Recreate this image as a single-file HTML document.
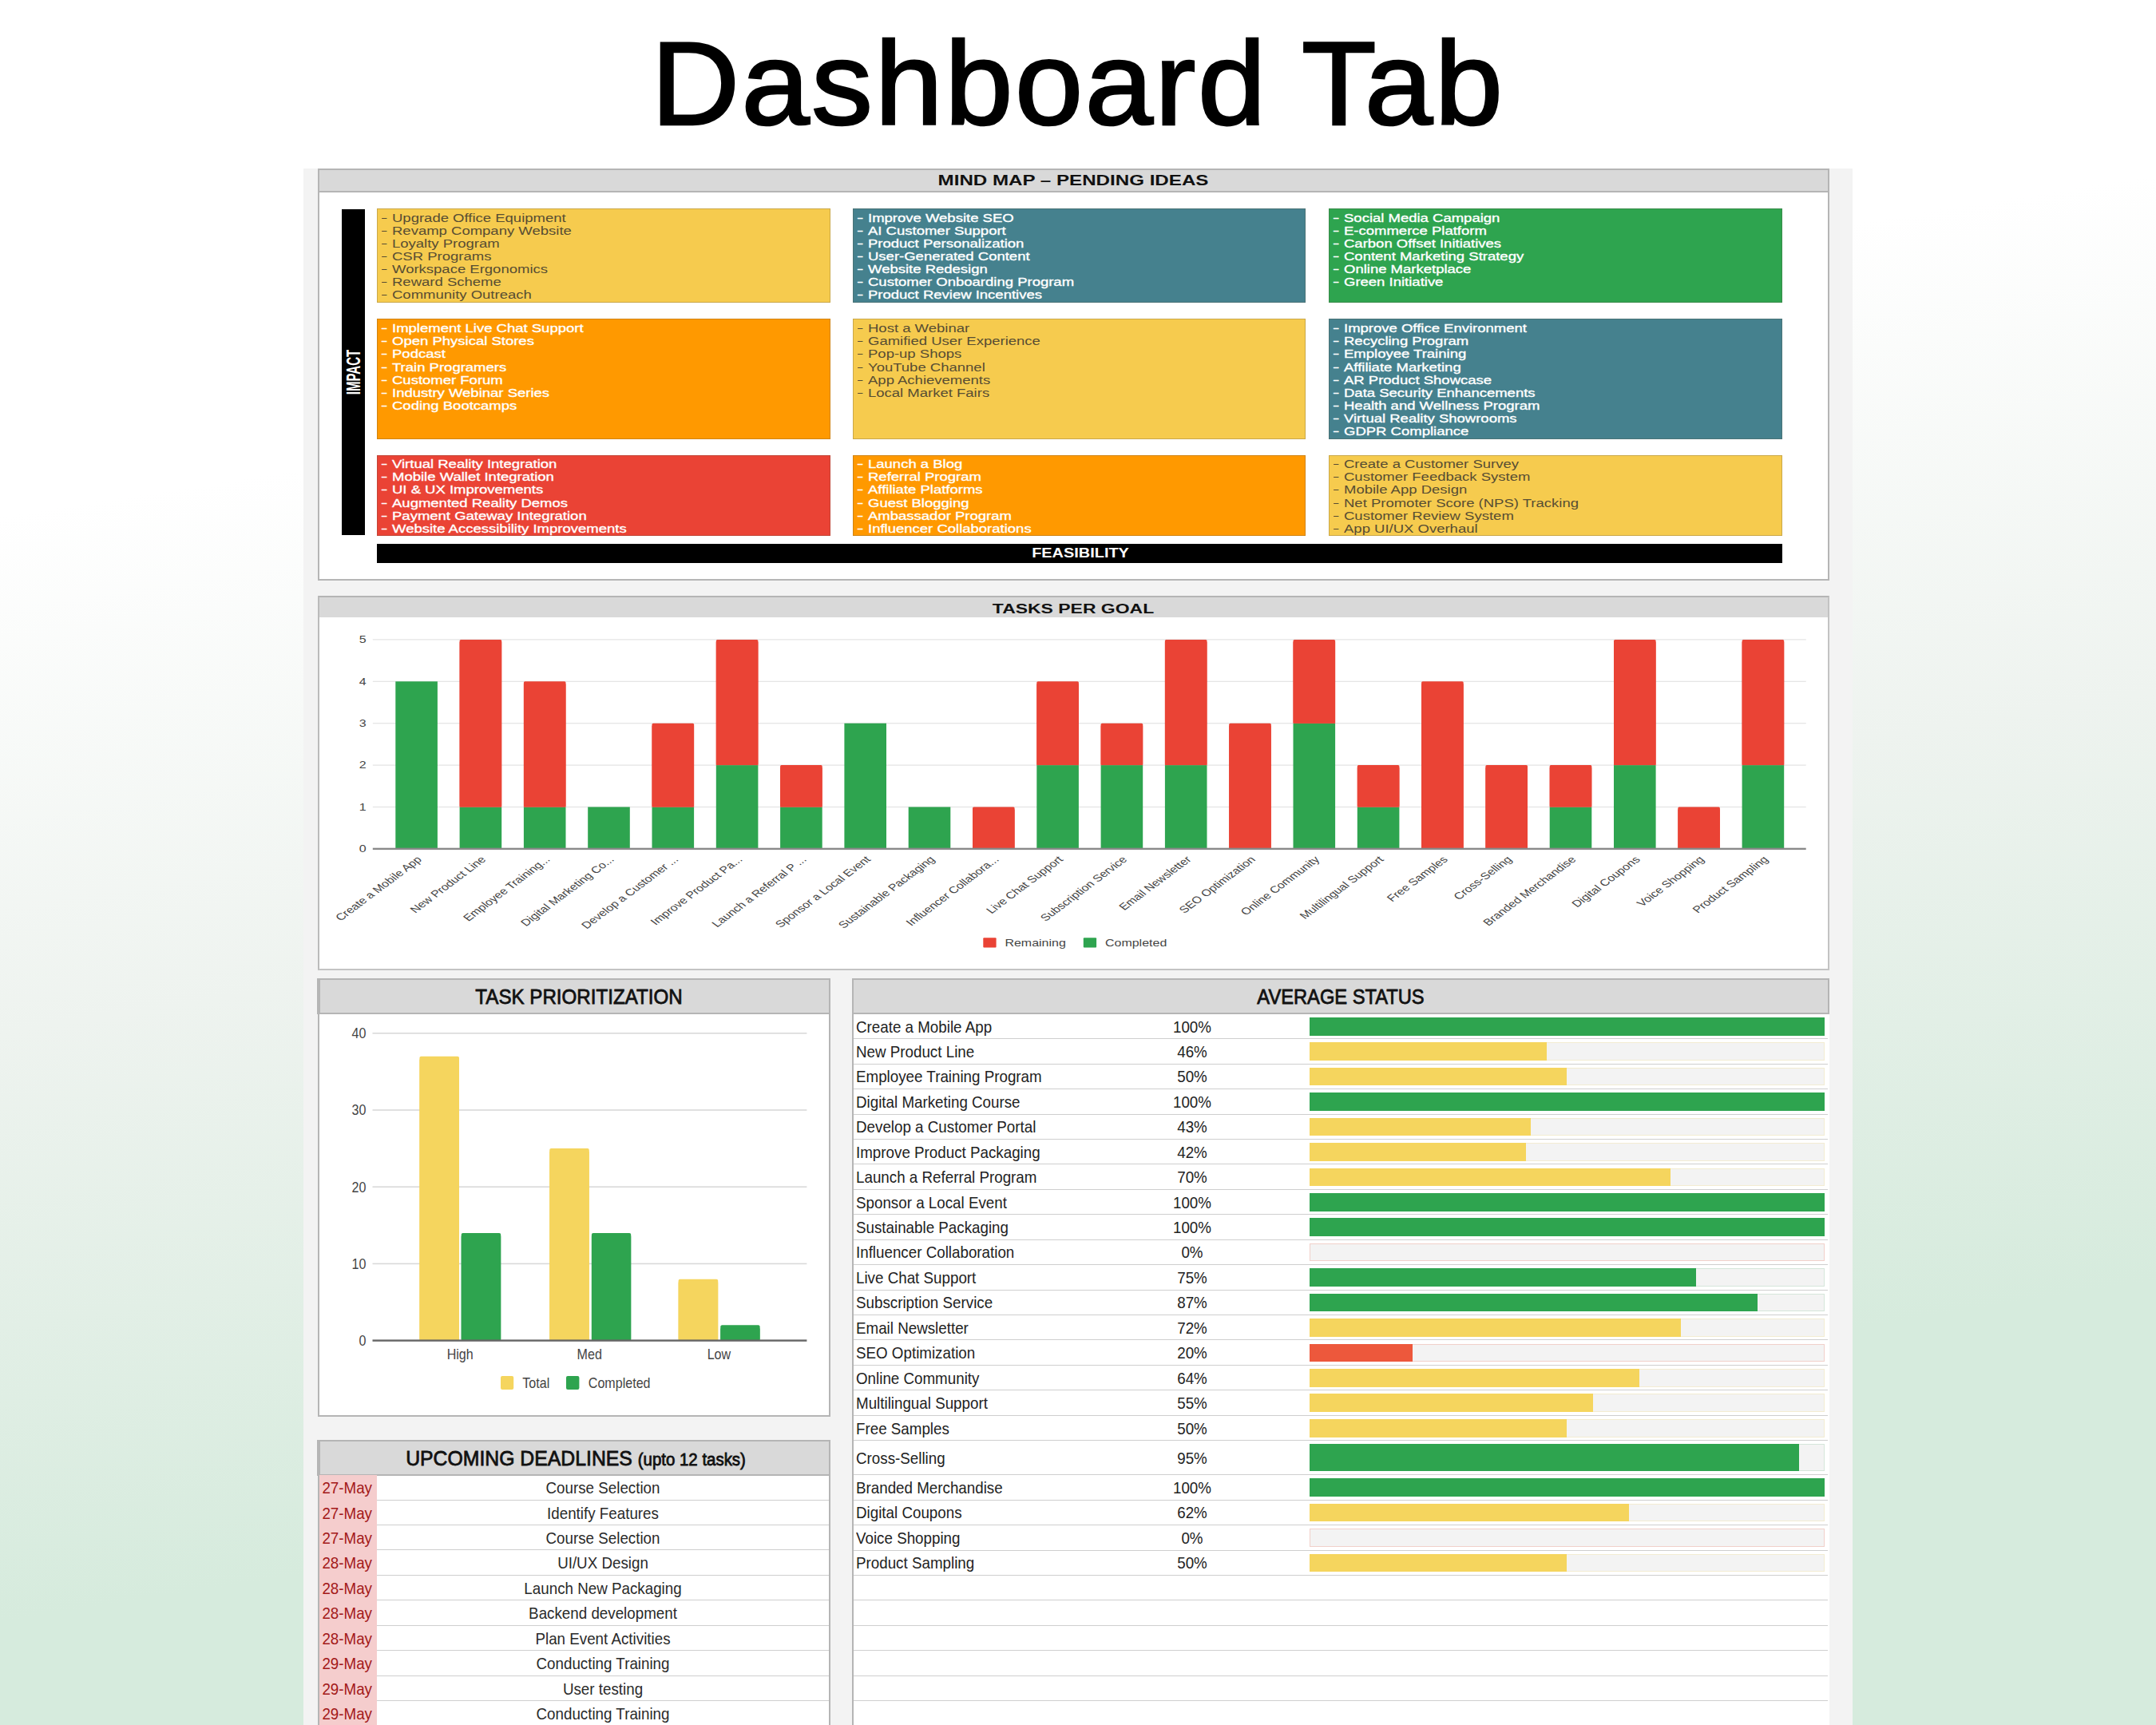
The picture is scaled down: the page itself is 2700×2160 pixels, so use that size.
<!DOCTYPE html>
<html lang="en"><head><meta charset="utf-8"><title>Dashboard Tab</title><style>
*{box-sizing:border-box;margin:0;padding:0}
html,body{width:2700px;height:2160px;overflow:hidden}
body{position:relative;font-family:"Liberation Sans",sans-serif;background:linear-gradient(171deg,#ffffff 0%,#ffffff 25%,#eef3ef 50%,#d6ebdd 78.5%,#d6ebdd 100%);}
.a{position:absolute}
.t{position:absolute;white-space:nowrap;line-height:1;}
.l{transform-origin:0 50%}
.c{transform-origin:50% 50%}
.r{transform-origin:100% 50%}
.panel{left:380px;top:211px;width:1940px;height:1949px;background:#f3f3f3}
.card{background:#fff;border:2px solid #b5b5b5}
.hd{background:#d9d9d9}
.mm{border:1px solid rgba(90,80,60,.28)}
.w{color:#fff;-webkit-text-stroke:.35px #fff}
.d{color:#574d33}
svg text{font-family:"Liberation Sans",sans-serif}
</style></head><body>
<div class="a " style="left:380.00px;top:211.00px;width:1940.00px;height:1949.00px;background:#f3f3f3;"></div>
<span class="t c " style="left:1349.80px;top:31.02px;font-size:148px;transform:translateX(-50%) scaleX(1.035);color:#000;letter-spacing:2.45px;-webkit-text-stroke:2.6px #000;">Dashboard Tab</span>
<div class="a card" style="left:398.00px;top:211.00px;width:1893.00px;height:516.00px;"></div>
<div class="a hd" style="left:400.00px;top:213.00px;width:1889.00px;height:28.00px;border-bottom:2px solid #b5b5b5;"></div>
<span class="t c " style="left:1344.00px;top:217.39px;font-size:18.8px;transform:translateX(-50%) scaleX(1.285);font-weight:bold;color:#111;">MIND MAP – PENDING IDEAS</span>
<div class="a mm" style="left:472.00px;top:261.00px;width:568.00px;height:118.00px;background:#f6cb4e;"></div>
<span class="t l d" style="left:478.20px;top:263.78px;font-size:15.2px;transform:scaleX(0.745);">–</span>
<span class="t l d" style="left:491.20px;top:264.78px;font-size:15.2px;transform:scaleX(1.218);">Upgrade Office Equipment</span>
<span class="t l d" style="left:478.20px;top:279.82px;font-size:15.2px;transform:scaleX(0.745);">–</span>
<span class="t l d" style="left:491.20px;top:280.82px;font-size:15.2px;transform:scaleX(1.218);">Revamp Company Website</span>
<span class="t l d" style="left:478.20px;top:295.86px;font-size:15.2px;transform:scaleX(0.745);">–</span>
<span class="t l d" style="left:491.20px;top:296.86px;font-size:15.2px;transform:scaleX(1.218);">Loyalty Program</span>
<span class="t l d" style="left:478.20px;top:311.90px;font-size:15.2px;transform:scaleX(0.745);">–</span>
<span class="t l d" style="left:491.20px;top:312.90px;font-size:15.2px;transform:scaleX(1.218);">CSR Programs</span>
<span class="t l d" style="left:478.20px;top:327.94px;font-size:15.2px;transform:scaleX(0.745);">–</span>
<span class="t l d" style="left:491.20px;top:328.94px;font-size:15.2px;transform:scaleX(1.218);">Workspace Ergonomics</span>
<span class="t l d" style="left:478.20px;top:343.98px;font-size:15.2px;transform:scaleX(0.745);">–</span>
<span class="t l d" style="left:491.20px;top:344.98px;font-size:15.2px;transform:scaleX(1.218);">Reward Scheme</span>
<span class="t l d" style="left:478.20px;top:360.02px;font-size:15.2px;transform:scaleX(0.745);">–</span>
<span class="t l d" style="left:491.20px;top:361.02px;font-size:15.2px;transform:scaleX(1.218);">Community Outreach</span>
<div class="a mm" style="left:1068.00px;top:261.00px;width:567.00px;height:118.00px;background:#45818e;"></div>
<span class="t l w" style="left:1074.20px;top:263.78px;font-size:15.2px;transform:scaleX(0.745);">–</span>
<span class="t l w" style="left:1087.20px;top:264.78px;font-size:15.2px;transform:scaleX(1.218);">Improve Website SEO</span>
<span class="t l w" style="left:1074.20px;top:279.82px;font-size:15.2px;transform:scaleX(0.745);">–</span>
<span class="t l w" style="left:1087.20px;top:280.82px;font-size:15.2px;transform:scaleX(1.218);">AI Customer Support</span>
<span class="t l w" style="left:1074.20px;top:295.86px;font-size:15.2px;transform:scaleX(0.745);">–</span>
<span class="t l w" style="left:1087.20px;top:296.86px;font-size:15.2px;transform:scaleX(1.218);">Product Personalization</span>
<span class="t l w" style="left:1074.20px;top:311.90px;font-size:15.2px;transform:scaleX(0.745);">–</span>
<span class="t l w" style="left:1087.20px;top:312.90px;font-size:15.2px;transform:scaleX(1.218);">User-Generated Content</span>
<span class="t l w" style="left:1074.20px;top:327.94px;font-size:15.2px;transform:scaleX(0.745);">–</span>
<span class="t l w" style="left:1087.20px;top:328.94px;font-size:15.2px;transform:scaleX(1.218);">Website Redesign</span>
<span class="t l w" style="left:1074.20px;top:343.98px;font-size:15.2px;transform:scaleX(0.745);">–</span>
<span class="t l w" style="left:1087.20px;top:344.98px;font-size:15.2px;transform:scaleX(1.218);">Customer Onboarding Program</span>
<span class="t l w" style="left:1074.20px;top:360.02px;font-size:15.2px;transform:scaleX(0.745);">–</span>
<span class="t l w" style="left:1087.20px;top:361.02px;font-size:15.2px;transform:scaleX(1.218);">Product Review Incentives</span>
<div class="a mm" style="left:1664.00px;top:261.00px;width:568.00px;height:118.00px;background:#2ea44f;"></div>
<span class="t l w" style="left:1670.20px;top:263.78px;font-size:15.2px;transform:scaleX(0.745);">–</span>
<span class="t l w" style="left:1683.20px;top:264.78px;font-size:15.2px;transform:scaleX(1.218);">Social Media Campaign</span>
<span class="t l w" style="left:1670.20px;top:279.82px;font-size:15.2px;transform:scaleX(0.745);">–</span>
<span class="t l w" style="left:1683.20px;top:280.82px;font-size:15.2px;transform:scaleX(1.218);">E-commerce Platform</span>
<span class="t l w" style="left:1670.20px;top:295.86px;font-size:15.2px;transform:scaleX(0.745);">–</span>
<span class="t l w" style="left:1683.20px;top:296.86px;font-size:15.2px;transform:scaleX(1.218);">Carbon Offset Initiatives</span>
<span class="t l w" style="left:1670.20px;top:311.90px;font-size:15.2px;transform:scaleX(0.745);">–</span>
<span class="t l w" style="left:1683.20px;top:312.90px;font-size:15.2px;transform:scaleX(1.218);">Content Marketing Strategy</span>
<span class="t l w" style="left:1670.20px;top:327.94px;font-size:15.2px;transform:scaleX(0.745);">–</span>
<span class="t l w" style="left:1683.20px;top:328.94px;font-size:15.2px;transform:scaleX(1.218);">Online Marketplace</span>
<span class="t l w" style="left:1670.20px;top:343.98px;font-size:15.2px;transform:scaleX(0.745);">–</span>
<span class="t l w" style="left:1683.20px;top:344.98px;font-size:15.2px;transform:scaleX(1.218);">Green Initiative</span>
<div class="a mm" style="left:472.00px;top:399.00px;width:568.00px;height:151.00px;background:#ff9900;"></div>
<span class="t l w" style="left:478.20px;top:402.38px;font-size:15.2px;transform:scaleX(0.745);">–</span>
<span class="t l w" style="left:491.20px;top:403.38px;font-size:15.2px;transform:scaleX(1.218);">Implement Live Chat Support</span>
<span class="t l w" style="left:478.20px;top:418.42px;font-size:15.2px;transform:scaleX(0.745);">–</span>
<span class="t l w" style="left:491.20px;top:419.42px;font-size:15.2px;transform:scaleX(1.218);">Open Physical Stores</span>
<span class="t l w" style="left:478.20px;top:434.46px;font-size:15.2px;transform:scaleX(0.745);">–</span>
<span class="t l w" style="left:491.20px;top:435.46px;font-size:15.2px;transform:scaleX(1.218);">Podcast</span>
<span class="t l w" style="left:478.20px;top:450.50px;font-size:15.2px;transform:scaleX(0.745);">–</span>
<span class="t l w" style="left:491.20px;top:451.50px;font-size:15.2px;transform:scaleX(1.218);">Train Programers</span>
<span class="t l w" style="left:478.20px;top:466.54px;font-size:15.2px;transform:scaleX(0.745);">–</span>
<span class="t l w" style="left:491.20px;top:467.54px;font-size:15.2px;transform:scaleX(1.218);">Customer Forum</span>
<span class="t l w" style="left:478.20px;top:482.58px;font-size:15.2px;transform:scaleX(0.745);">–</span>
<span class="t l w" style="left:491.20px;top:483.58px;font-size:15.2px;transform:scaleX(1.218);">Industry Webinar Series</span>
<span class="t l w" style="left:478.20px;top:498.62px;font-size:15.2px;transform:scaleX(0.745);">–</span>
<span class="t l w" style="left:491.20px;top:499.62px;font-size:15.2px;transform:scaleX(1.218);">Coding Bootcamps</span>
<div class="a mm" style="left:1068.00px;top:399.00px;width:567.00px;height:151.00px;background:#f6cb4e;"></div>
<span class="t l d" style="left:1074.20px;top:402.38px;font-size:15.2px;transform:scaleX(0.745);">–</span>
<span class="t l d" style="left:1087.20px;top:403.38px;font-size:15.2px;transform:scaleX(1.218);">Host a Webinar</span>
<span class="t l d" style="left:1074.20px;top:418.42px;font-size:15.2px;transform:scaleX(0.745);">–</span>
<span class="t l d" style="left:1087.20px;top:419.42px;font-size:15.2px;transform:scaleX(1.218);">Gamified User Experience</span>
<span class="t l d" style="left:1074.20px;top:434.46px;font-size:15.2px;transform:scaleX(0.745);">–</span>
<span class="t l d" style="left:1087.20px;top:435.46px;font-size:15.2px;transform:scaleX(1.218);">Pop-up Shops</span>
<span class="t l d" style="left:1074.20px;top:450.50px;font-size:15.2px;transform:scaleX(0.745);">–</span>
<span class="t l d" style="left:1087.20px;top:451.50px;font-size:15.2px;transform:scaleX(1.218);">YouTube Channel</span>
<span class="t l d" style="left:1074.20px;top:466.54px;font-size:15.2px;transform:scaleX(0.745);">–</span>
<span class="t l d" style="left:1087.20px;top:467.54px;font-size:15.2px;transform:scaleX(1.218);">App Achievements</span>
<span class="t l d" style="left:1074.20px;top:482.58px;font-size:15.2px;transform:scaleX(0.745);">–</span>
<span class="t l d" style="left:1087.20px;top:483.58px;font-size:15.2px;transform:scaleX(1.218);">Local Market Fairs</span>
<div class="a mm" style="left:1664.00px;top:399.00px;width:568.00px;height:151.00px;background:#45818e;"></div>
<span class="t l w" style="left:1670.20px;top:402.38px;font-size:15.2px;transform:scaleX(0.745);">–</span>
<span class="t l w" style="left:1683.20px;top:403.38px;font-size:15.2px;transform:scaleX(1.218);">Improve Office Environment</span>
<span class="t l w" style="left:1670.20px;top:418.42px;font-size:15.2px;transform:scaleX(0.745);">–</span>
<span class="t l w" style="left:1683.20px;top:419.42px;font-size:15.2px;transform:scaleX(1.218);">Recycling Program</span>
<span class="t l w" style="left:1670.20px;top:434.46px;font-size:15.2px;transform:scaleX(0.745);">–</span>
<span class="t l w" style="left:1683.20px;top:435.46px;font-size:15.2px;transform:scaleX(1.218);">Employee Training</span>
<span class="t l w" style="left:1670.20px;top:450.50px;font-size:15.2px;transform:scaleX(0.745);">–</span>
<span class="t l w" style="left:1683.20px;top:451.50px;font-size:15.2px;transform:scaleX(1.218);">Affiliate Marketing</span>
<span class="t l w" style="left:1670.20px;top:466.54px;font-size:15.2px;transform:scaleX(0.745);">–</span>
<span class="t l w" style="left:1683.20px;top:467.54px;font-size:15.2px;transform:scaleX(1.218);">AR Product Showcase</span>
<span class="t l w" style="left:1670.20px;top:482.58px;font-size:15.2px;transform:scaleX(0.745);">–</span>
<span class="t l w" style="left:1683.20px;top:483.58px;font-size:15.2px;transform:scaleX(1.218);">Data Security Enhancements</span>
<span class="t l w" style="left:1670.20px;top:498.62px;font-size:15.2px;transform:scaleX(0.745);">–</span>
<span class="t l w" style="left:1683.20px;top:499.62px;font-size:15.2px;transform:scaleX(1.218);">Health and Wellness Program</span>
<span class="t l w" style="left:1670.20px;top:514.66px;font-size:15.2px;transform:scaleX(0.745);">–</span>
<span class="t l w" style="left:1683.20px;top:515.66px;font-size:15.2px;transform:scaleX(1.218);">Virtual Reality Showrooms</span>
<span class="t l w" style="left:1670.20px;top:530.70px;font-size:15.2px;transform:scaleX(0.745);">–</span>
<span class="t l w" style="left:1683.20px;top:531.70px;font-size:15.2px;transform:scaleX(1.218);">GDPR Compliance</span>
<div class="a mm" style="left:472.00px;top:570.00px;width:568.00px;height:101.00px;background:#ea4335;"></div>
<span class="t l w" style="left:478.20px;top:572.38px;font-size:15.2px;transform:scaleX(0.745);">–</span>
<span class="t l w" style="left:491.20px;top:573.38px;font-size:15.2px;transform:scaleX(1.218);">Virtual Reality Integration</span>
<span class="t l w" style="left:478.20px;top:588.42px;font-size:15.2px;transform:scaleX(0.745);">–</span>
<span class="t l w" style="left:491.20px;top:589.42px;font-size:15.2px;transform:scaleX(1.218);">Mobile Wallet Integration</span>
<span class="t l w" style="left:478.20px;top:604.46px;font-size:15.2px;transform:scaleX(0.745);">–</span>
<span class="t l w" style="left:491.20px;top:605.46px;font-size:15.2px;transform:scaleX(1.218);">UI &amp; UX Improvements</span>
<span class="t l w" style="left:478.20px;top:620.50px;font-size:15.2px;transform:scaleX(0.745);">–</span>
<span class="t l w" style="left:491.20px;top:621.50px;font-size:15.2px;transform:scaleX(1.218);">Augmented Reality Demos</span>
<span class="t l w" style="left:478.20px;top:636.54px;font-size:15.2px;transform:scaleX(0.745);">–</span>
<span class="t l w" style="left:491.20px;top:637.54px;font-size:15.2px;transform:scaleX(1.218);">Payment Gateway Integration</span>
<span class="t l w" style="left:478.20px;top:652.58px;font-size:15.2px;transform:scaleX(0.745);">–</span>
<span class="t l w" style="left:491.20px;top:653.58px;font-size:15.2px;transform:scaleX(1.218);">Website Accessibility Improvements</span>
<div class="a mm" style="left:1068.00px;top:570.00px;width:567.00px;height:101.00px;background:#ff9900;"></div>
<span class="t l w" style="left:1074.20px;top:572.38px;font-size:15.2px;transform:scaleX(0.745);">–</span>
<span class="t l w" style="left:1087.20px;top:573.38px;font-size:15.2px;transform:scaleX(1.218);">Launch a Blog</span>
<span class="t l w" style="left:1074.20px;top:588.42px;font-size:15.2px;transform:scaleX(0.745);">–</span>
<span class="t l w" style="left:1087.20px;top:589.42px;font-size:15.2px;transform:scaleX(1.218);">Referral Program</span>
<span class="t l w" style="left:1074.20px;top:604.46px;font-size:15.2px;transform:scaleX(0.745);">–</span>
<span class="t l w" style="left:1087.20px;top:605.46px;font-size:15.2px;transform:scaleX(1.218);">Affiliate Platforms</span>
<span class="t l w" style="left:1074.20px;top:620.50px;font-size:15.2px;transform:scaleX(0.745);">–</span>
<span class="t l w" style="left:1087.20px;top:621.50px;font-size:15.2px;transform:scaleX(1.218);">Guest Blogging</span>
<span class="t l w" style="left:1074.20px;top:636.54px;font-size:15.2px;transform:scaleX(0.745);">–</span>
<span class="t l w" style="left:1087.20px;top:637.54px;font-size:15.2px;transform:scaleX(1.218);">Ambassador Program</span>
<span class="t l w" style="left:1074.20px;top:652.58px;font-size:15.2px;transform:scaleX(0.745);">–</span>
<span class="t l w" style="left:1087.20px;top:653.58px;font-size:15.2px;transform:scaleX(1.218);">Influencer Collaborations</span>
<div class="a mm" style="left:1664.00px;top:570.00px;width:568.00px;height:101.00px;background:#f6cb4e;"></div>
<span class="t l d" style="left:1670.20px;top:572.38px;font-size:15.2px;transform:scaleX(0.745);">–</span>
<span class="t l d" style="left:1683.20px;top:573.38px;font-size:15.2px;transform:scaleX(1.218);">Create a Customer Survey</span>
<span class="t l d" style="left:1670.20px;top:588.42px;font-size:15.2px;transform:scaleX(0.745);">–</span>
<span class="t l d" style="left:1683.20px;top:589.42px;font-size:15.2px;transform:scaleX(1.218);">Customer Feedback System</span>
<span class="t l d" style="left:1670.20px;top:604.46px;font-size:15.2px;transform:scaleX(0.745);">–</span>
<span class="t l d" style="left:1683.20px;top:605.46px;font-size:15.2px;transform:scaleX(1.218);">Mobile App Design</span>
<span class="t l d" style="left:1670.20px;top:620.50px;font-size:15.2px;transform:scaleX(0.745);">–</span>
<span class="t l d" style="left:1683.20px;top:621.50px;font-size:15.2px;transform:scaleX(1.218);">Net Promoter Score (NPS) Tracking</span>
<span class="t l d" style="left:1670.20px;top:636.54px;font-size:15.2px;transform:scaleX(0.745);">–</span>
<span class="t l d" style="left:1683.20px;top:637.54px;font-size:15.2px;transform:scaleX(1.218);">Customer Review System</span>
<span class="t l d" style="left:1670.20px;top:652.58px;font-size:15.2px;transform:scaleX(0.745);">–</span>
<span class="t l d" style="left:1683.20px;top:653.58px;font-size:15.2px;transform:scaleX(1.218);">App UI/UX Overhaul</span>
<div class="a " style="left:428.00px;top:262.00px;width:29.00px;height:408.00px;background:#000;"></div>
<span class="t c" style="left:443.8px;top:466px;font-size:23.5px;font-weight:bold;color:#fff;transform:translate(-50%,-50%) rotate(-90deg) scaleX(.64);">IMPACT</span>
<div class="a " style="left:472.00px;top:681.00px;width:1760.00px;height:24.00px;background:#000;"></div>
<span class="t c " style="left:1352.50px;top:684.76px;font-size:16px;transform:translateX(-50%) scaleX(1.245);font-weight:bold;color:#fff;">FEASIBILITY</span>
<div class="a card" style="left:398.00px;top:746.00px;width:1893.00px;height:469.00px;border-color:#b5b5b5 #c3c3c3 #c3c3c3 #bbbbbb;"></div>
<div class="a hd" style="left:400.00px;top:748.00px;width:1889.00px;height:25.00px;"></div>
<span class="t c " style="left:1344.30px;top:753.57px;font-size:17.4px;transform:translateX(-50%) scaleX(1.32);font-weight:bold;color:#111;">TASKS PER GOAL</span>
<div class="a card" style="left:398.00px;top:1225.00px;width:642.00px;height:548.50px;"></div>
<div class="a hd" style="left:400.00px;top:1227.00px;width:638.00px;height:43.00px;border-bottom:2px solid #b5b5b5;border-left:1px solid #b5b5b5;"></div>
<div class="a " style="left:397.00px;top:1225.00px;width:3.50px;height:45.00px;background:#b5b5b5;"></div>
<span class="t c " style="left:724.80px;top:1235.11px;font-size:26.1px;transform:translateX(-50%) scaleX(0.925);color:#111;-webkit-text-stroke:.8px #111;">TASK PRIORITIZATION</span>
<div class="a card" style="left:398.00px;top:1803.00px;width:642.00px;height:367.00px;"></div>
<div class="a hd" style="left:400.00px;top:1805.00px;width:638.00px;height:42.50px;border-bottom:2px solid #b5b5b5;border-left:1px solid #b5b5b5;"></div>
<div class="a " style="left:397.00px;top:1803.00px;width:3.50px;height:44.50px;background:#b5b5b5;"></div>
<span class="t c" style="left:721px;top:1813.01px;font-size:26.1px;color:#111;-webkit-text-stroke:.8px #111;transform:translateX(-50%) scaleX(.95);">UPCOMING DEADLINES <span style="font-size:21.5px">(upto 12 tasks)</span></span>
<div class="a " style="left:400.00px;top:1847.00px;width:72.00px;height:313.00px;background:#f5cdcd;"></div>
<div class="a " style="left:472.00px;top:1878.00px;width:566.00px;height:1.00px;background:#cfcfcf;"></div>
<span class="t r " style="left:466.20px;top:1853.20px;font-size:20.2px;transform:translateX(-100%) scaleX(0.93);color:#a31818;">27-May</span>
<span class="t c " style="left:755.00px;top:1853.20px;font-size:20.2px;transform:translateX(-50%) scaleX(0.93);color:#2a2a2a;">Course Selection</span>
<div class="a " style="left:472.00px;top:1909.00px;width:566.00px;height:1.00px;background:#cfcfcf;"></div>
<span class="t r " style="left:466.20px;top:1884.63px;font-size:20.2px;transform:translateX(-100%) scaleX(0.93);color:#a31818;">27-May</span>
<span class="t c " style="left:755.00px;top:1884.63px;font-size:20.2px;transform:translateX(-50%) scaleX(0.93);color:#2a2a2a;">Identify Features</span>
<div class="a " style="left:472.00px;top:1940.00px;width:566.00px;height:1.00px;background:#cfcfcf;"></div>
<span class="t r " style="left:466.20px;top:1916.06px;font-size:20.2px;transform:translateX(-100%) scaleX(0.93);color:#a31818;">27-May</span>
<span class="t c " style="left:755.00px;top:1916.06px;font-size:20.2px;transform:translateX(-50%) scaleX(0.93);color:#2a2a2a;">Course Selection</span>
<div class="a " style="left:472.00px;top:1972.00px;width:566.00px;height:1.00px;background:#cfcfcf;"></div>
<span class="t r " style="left:466.20px;top:1947.49px;font-size:20.2px;transform:translateX(-100%) scaleX(0.93);color:#a31818;">28-May</span>
<span class="t c " style="left:755.00px;top:1947.49px;font-size:20.2px;transform:translateX(-50%) scaleX(0.93);color:#2a2a2a;">UI/UX Design</span>
<div class="a " style="left:472.00px;top:2003.00px;width:566.00px;height:1.00px;background:#cfcfcf;"></div>
<span class="t r " style="left:466.20px;top:1978.92px;font-size:20.2px;transform:translateX(-100%) scaleX(0.93);color:#a31818;">28-May</span>
<span class="t c " style="left:755.00px;top:1978.92px;font-size:20.2px;transform:translateX(-50%) scaleX(0.93);color:#2a2a2a;">Launch New Packaging</span>
<div class="a " style="left:472.00px;top:2035.00px;width:566.00px;height:1.00px;background:#cfcfcf;"></div>
<span class="t r " style="left:466.20px;top:2010.35px;font-size:20.2px;transform:translateX(-100%) scaleX(0.93);color:#a31818;">28-May</span>
<span class="t c " style="left:755.00px;top:2010.35px;font-size:20.2px;transform:translateX(-50%) scaleX(0.93);color:#2a2a2a;">Backend development</span>
<div class="a " style="left:472.00px;top:2066.00px;width:566.00px;height:1.00px;background:#cfcfcf;"></div>
<span class="t r " style="left:466.20px;top:2041.78px;font-size:20.2px;transform:translateX(-100%) scaleX(0.93);color:#a31818;">28-May</span>
<span class="t c " style="left:755.00px;top:2041.78px;font-size:20.2px;transform:translateX(-50%) scaleX(0.93);color:#2a2a2a;">Plan Event Activities</span>
<div class="a " style="left:472.00px;top:2098.00px;width:566.00px;height:1.00px;background:#cfcfcf;"></div>
<span class="t r " style="left:466.20px;top:2073.21px;font-size:20.2px;transform:translateX(-100%) scaleX(0.93);color:#a31818;">29-May</span>
<span class="t c " style="left:755.00px;top:2073.21px;font-size:20.2px;transform:translateX(-50%) scaleX(0.93);color:#2a2a2a;">Conducting Training</span>
<div class="a " style="left:472.00px;top:2129.00px;width:566.00px;height:1.00px;background:#cfcfcf;"></div>
<span class="t r " style="left:466.20px;top:2104.64px;font-size:20.2px;transform:translateX(-100%) scaleX(0.93);color:#a31818;">29-May</span>
<span class="t c " style="left:755.00px;top:2104.64px;font-size:20.2px;transform:translateX(-50%) scaleX(0.93);color:#2a2a2a;">User testing</span>
<div class="a " style="left:472.00px;top:2160.00px;width:566.00px;height:1.00px;background:#cfcfcf;"></div>
<span class="t r " style="left:466.20px;top:2136.07px;font-size:20.2px;transform:translateX(-100%) scaleX(0.93);color:#a31818;">29-May</span>
<span class="t c " style="left:755.00px;top:2136.07px;font-size:20.2px;transform:translateX(-50%) scaleX(0.93);color:#2a2a2a;">Conducting Training</span>
<div class="a card" style="left:1067.00px;top:1225.00px;width:1224.00px;height:945.00px;border-right-color:#fff;"></div>
<div class="a hd" style="left:1069.00px;top:1227.00px;width:1220.00px;height:43.00px;border-bottom:2px solid #b5b5b5;"></div>
<div class="a " style="left:2289.00px;top:1225.00px;width:2.00px;height:45.00px;background:#b5b5b5;"></div>
<span class="t c " style="left:1678.50px;top:1235.11px;font-size:26.1px;transform:translateX(-50%) scaleX(0.908);color:#111;-webkit-text-stroke:.8px #111;">AVERAGE STATUS</span>
<div class="a " style="left:1069.00px;top:1300.00px;width:1220.00px;height:1.00px;background:#cfcfcf;"></div>
<span class="t l " style="left:1072.40px;top:1275.62px;font-size:20.2px;transform:scaleX(0.93);color:#222;">Create a Mobile App</span>
<span class="t c " style="left:1493.20px;top:1275.62px;font-size:20.2px;transform:translateX(-50%) scaleX(0.93);color:#222;">100%</span>
<div class="a " style="left:1639.50px;top:1274.00px;width:645.90px;height:22.63px;background:#f3f3f3;border:1px solid rgba(46,164,79,.15);"></div>
<div class="a " style="left:1639.50px;top:1274.00px;width:645.90px;height:22.63px;background:#2ea44f;"></div>
<div class="a " style="left:1069.00px;top:1332.00px;width:1220.00px;height:1.00px;background:#cfcfcf;"></div>
<span class="t l " style="left:1072.40px;top:1307.05px;font-size:20.2px;transform:scaleX(0.93);color:#222;">New Product Line</span>
<span class="t c " style="left:1493.20px;top:1307.05px;font-size:20.2px;transform:translateX(-50%) scaleX(0.93);color:#222;">46%</span>
<div class="a " style="left:1639.50px;top:1305.43px;width:645.90px;height:22.63px;background:#f3f3f3;border:1px solid rgba(245,213,94,.22);"></div>
<div class="a " style="left:1639.50px;top:1305.43px;width:297.11px;height:22.63px;background:#f5d55e;"></div>
<div class="a " style="left:1069.00px;top:1363.00px;width:1220.00px;height:1.00px;background:#cfcfcf;"></div>
<span class="t l " style="left:1072.40px;top:1338.48px;font-size:20.2px;transform:scaleX(0.93);color:#222;">Employee Training Program</span>
<span class="t c " style="left:1493.20px;top:1338.48px;font-size:20.2px;transform:translateX(-50%) scaleX(0.93);color:#222;">50%</span>
<div class="a " style="left:1639.50px;top:1336.86px;width:645.90px;height:22.63px;background:#f3f3f3;border:1px solid rgba(245,213,94,.22);"></div>
<div class="a " style="left:1639.50px;top:1336.86px;width:322.95px;height:22.63px;background:#f5d55e;"></div>
<div class="a " style="left:1069.00px;top:1395.00px;width:1220.00px;height:1.00px;background:#cfcfcf;"></div>
<span class="t l " style="left:1072.40px;top:1369.91px;font-size:20.2px;transform:scaleX(0.93);color:#222;">Digital Marketing Course</span>
<span class="t c " style="left:1493.20px;top:1369.91px;font-size:20.2px;transform:translateX(-50%) scaleX(0.93);color:#222;">100%</span>
<div class="a " style="left:1639.50px;top:1368.29px;width:645.90px;height:22.63px;background:#f3f3f3;border:1px solid rgba(46,164,79,.15);"></div>
<div class="a " style="left:1639.50px;top:1368.29px;width:645.90px;height:22.63px;background:#2ea44f;"></div>
<div class="a " style="left:1069.00px;top:1426.00px;width:1220.00px;height:1.00px;background:#cfcfcf;"></div>
<span class="t l " style="left:1072.40px;top:1401.34px;font-size:20.2px;transform:scaleX(0.93);color:#222;">Develop a Customer Portal</span>
<span class="t c " style="left:1493.20px;top:1401.34px;font-size:20.2px;transform:translateX(-50%) scaleX(0.93);color:#222;">43%</span>
<div class="a " style="left:1639.50px;top:1399.72px;width:645.90px;height:22.63px;background:#f3f3f3;border:1px solid rgba(245,213,94,.22);"></div>
<div class="a " style="left:1639.50px;top:1399.72px;width:277.74px;height:22.63px;background:#f5d55e;"></div>
<div class="a " style="left:1069.00px;top:1457.00px;width:1220.00px;height:1.00px;background:#cfcfcf;"></div>
<span class="t l " style="left:1072.40px;top:1432.77px;font-size:20.2px;transform:scaleX(0.93);color:#222;">Improve Product Packaging</span>
<span class="t c " style="left:1493.20px;top:1432.77px;font-size:20.2px;transform:translateX(-50%) scaleX(0.93);color:#222;">42%</span>
<div class="a " style="left:1639.50px;top:1431.15px;width:645.90px;height:22.63px;background:#f3f3f3;border:1px solid rgba(245,213,94,.22);"></div>
<div class="a " style="left:1639.50px;top:1431.15px;width:271.28px;height:22.63px;background:#f5d55e;"></div>
<div class="a " style="left:1069.00px;top:1489.00px;width:1220.00px;height:1.00px;background:#cfcfcf;"></div>
<span class="t l " style="left:1072.40px;top:1464.20px;font-size:20.2px;transform:scaleX(0.93);color:#222;">Launch a Referral Program</span>
<span class="t c " style="left:1493.20px;top:1464.20px;font-size:20.2px;transform:translateX(-50%) scaleX(0.93);color:#222;">70%</span>
<div class="a " style="left:1639.50px;top:1462.58px;width:645.90px;height:22.63px;background:#f3f3f3;border:1px solid rgba(245,213,94,.22);"></div>
<div class="a " style="left:1639.50px;top:1462.58px;width:452.13px;height:22.63px;background:#f5d55e;"></div>
<div class="a " style="left:1069.00px;top:1520.00px;width:1220.00px;height:1.00px;background:#cfcfcf;"></div>
<span class="t l " style="left:1072.40px;top:1495.63px;font-size:20.2px;transform:scaleX(0.93);color:#222;">Sponsor a Local Event</span>
<span class="t c " style="left:1493.20px;top:1495.63px;font-size:20.2px;transform:translateX(-50%) scaleX(0.93);color:#222;">100%</span>
<div class="a " style="left:1639.50px;top:1494.01px;width:645.90px;height:22.63px;background:#f3f3f3;border:1px solid rgba(46,164,79,.15);"></div>
<div class="a " style="left:1639.50px;top:1494.01px;width:645.90px;height:22.63px;background:#2ea44f;"></div>
<div class="a " style="left:1069.00px;top:1552.00px;width:1220.00px;height:1.00px;background:#cfcfcf;"></div>
<span class="t l " style="left:1072.40px;top:1527.06px;font-size:20.2px;transform:scaleX(0.93);color:#222;">Sustainable Packaging</span>
<span class="t c " style="left:1493.20px;top:1527.06px;font-size:20.2px;transform:translateX(-50%) scaleX(0.93);color:#222;">100%</span>
<div class="a " style="left:1639.50px;top:1525.44px;width:645.90px;height:22.63px;background:#f3f3f3;border:1px solid rgba(46,164,79,.15);"></div>
<div class="a " style="left:1639.50px;top:1525.44px;width:645.90px;height:22.63px;background:#2ea44f;"></div>
<div class="a " style="left:1069.00px;top:1583.00px;width:1220.00px;height:1.00px;background:#cfcfcf;"></div>
<span class="t l " style="left:1072.40px;top:1558.49px;font-size:20.2px;transform:scaleX(0.93);color:#222;">Influencer Collaboration</span>
<span class="t c " style="left:1493.20px;top:1558.49px;font-size:20.2px;transform:translateX(-50%) scaleX(0.93);color:#222;">0%</span>
<div class="a " style="left:1639.50px;top:1556.87px;width:645.90px;height:22.63px;background:#f3f3f3;border:1px solid rgba(237,88,60,.22);"></div>
<div class="a " style="left:1069.00px;top:1615.00px;width:1220.00px;height:1.00px;background:#cfcfcf;"></div>
<span class="t l " style="left:1072.40px;top:1589.92px;font-size:20.2px;transform:scaleX(0.93);color:#222;">Live Chat Support</span>
<span class="t c " style="left:1493.20px;top:1589.92px;font-size:20.2px;transform:translateX(-50%) scaleX(0.93);color:#222;">75%</span>
<div class="a " style="left:1639.50px;top:1588.30px;width:645.90px;height:22.63px;background:#f3f3f3;border:1px solid rgba(46,164,79,.15);"></div>
<div class="a " style="left:1639.50px;top:1588.30px;width:484.43px;height:22.63px;background:#2ea44f;"></div>
<div class="a " style="left:1069.00px;top:1646.00px;width:1220.00px;height:1.00px;background:#cfcfcf;"></div>
<span class="t l " style="left:1072.40px;top:1621.35px;font-size:20.2px;transform:scaleX(0.93);color:#222;">Subscription Service</span>
<span class="t c " style="left:1493.20px;top:1621.35px;font-size:20.2px;transform:translateX(-50%) scaleX(0.93);color:#222;">87%</span>
<div class="a " style="left:1639.50px;top:1619.73px;width:645.90px;height:22.63px;background:#f3f3f3;border:1px solid rgba(46,164,79,.15);"></div>
<div class="a " style="left:1639.50px;top:1619.73px;width:561.93px;height:22.63px;background:#2ea44f;"></div>
<div class="a " style="left:1069.00px;top:1677.00px;width:1220.00px;height:1.00px;background:#cfcfcf;"></div>
<span class="t l " style="left:1072.40px;top:1652.78px;font-size:20.2px;transform:scaleX(0.93);color:#222;">Email Newsletter</span>
<span class="t c " style="left:1493.20px;top:1652.78px;font-size:20.2px;transform:translateX(-50%) scaleX(0.93);color:#222;">72%</span>
<div class="a " style="left:1639.50px;top:1651.16px;width:645.90px;height:22.63px;background:#f3f3f3;border:1px solid rgba(245,213,94,.22);"></div>
<div class="a " style="left:1639.50px;top:1651.16px;width:465.05px;height:22.63px;background:#f5d55e;"></div>
<div class="a " style="left:1069.00px;top:1709.00px;width:1220.00px;height:1.00px;background:#cfcfcf;"></div>
<span class="t l " style="left:1072.40px;top:1684.21px;font-size:20.2px;transform:scaleX(0.93);color:#222;">SEO Optimization</span>
<span class="t c " style="left:1493.20px;top:1684.21px;font-size:20.2px;transform:translateX(-50%) scaleX(0.93);color:#222;">20%</span>
<div class="a " style="left:1639.50px;top:1682.59px;width:645.90px;height:22.63px;background:#f3f3f3;border:1px solid rgba(237,88,60,.22);"></div>
<div class="a " style="left:1639.50px;top:1682.59px;width:129.18px;height:22.63px;background:#ed583c;"></div>
<div class="a " style="left:1069.00px;top:1740.00px;width:1220.00px;height:1.00px;background:#cfcfcf;"></div>
<span class="t l " style="left:1072.40px;top:1715.64px;font-size:20.2px;transform:scaleX(0.93);color:#222;">Online Community</span>
<span class="t c " style="left:1493.20px;top:1715.64px;font-size:20.2px;transform:translateX(-50%) scaleX(0.93);color:#222;">64%</span>
<div class="a " style="left:1639.50px;top:1714.02px;width:645.90px;height:22.63px;background:#f3f3f3;border:1px solid rgba(245,213,94,.22);"></div>
<div class="a " style="left:1639.50px;top:1714.02px;width:413.38px;height:22.63px;background:#f5d55e;"></div>
<div class="a " style="left:1069.00px;top:1772.00px;width:1220.00px;height:1.00px;background:#cfcfcf;"></div>
<span class="t l " style="left:1072.40px;top:1747.07px;font-size:20.2px;transform:scaleX(0.93);color:#222;">Multilingual Support</span>
<span class="t c " style="left:1493.20px;top:1747.07px;font-size:20.2px;transform:translateX(-50%) scaleX(0.93);color:#222;">55%</span>
<div class="a " style="left:1639.50px;top:1745.45px;width:645.90px;height:22.63px;background:#f3f3f3;border:1px solid rgba(245,213,94,.22);"></div>
<div class="a " style="left:1639.50px;top:1745.45px;width:355.25px;height:22.63px;background:#f5d55e;"></div>
<div class="a " style="left:1069.00px;top:1803.00px;width:1220.00px;height:1.00px;background:#cfcfcf;"></div>
<span class="t l " style="left:1072.40px;top:1778.50px;font-size:20.2px;transform:scaleX(0.93);color:#222;">Free Samples</span>
<span class="t c " style="left:1493.20px;top:1778.50px;font-size:20.2px;transform:translateX(-50%) scaleX(0.93);color:#222;">50%</span>
<div class="a " style="left:1639.50px;top:1776.88px;width:645.90px;height:22.63px;background:#f3f3f3;border:1px solid rgba(245,213,94,.22);"></div>
<div class="a " style="left:1639.50px;top:1776.88px;width:322.95px;height:22.63px;background:#f5d55e;"></div>
<div class="a " style="left:1069.00px;top:1846.00px;width:1220.00px;height:1.00px;background:#cfcfcf;"></div>
<span class="t l " style="left:1072.40px;top:1815.71px;font-size:20.2px;transform:scaleX(0.93);color:#222;">Cross-Selling</span>
<span class="t c " style="left:1493.20px;top:1815.71px;font-size:20.2px;transform:translateX(-50%) scaleX(0.93);color:#222;">95%</span>
<div class="a " style="left:1639.50px;top:1808.31px;width:645.90px;height:34.20px;background:#f3f3f3;border:1px solid rgba(46,164,79,.15);"></div>
<div class="a " style="left:1639.50px;top:1808.31px;width:613.61px;height:34.20px;background:#2ea44f;"></div>
<div class="a " style="left:1069.00px;top:1878.00px;width:1220.00px;height:1.00px;background:#cfcfcf;"></div>
<span class="t l " style="left:1072.40px;top:1852.93px;font-size:20.2px;transform:scaleX(0.93);color:#222;">Branded Merchandise</span>
<span class="t c " style="left:1493.20px;top:1852.93px;font-size:20.2px;transform:translateX(-50%) scaleX(0.93);color:#222;">100%</span>
<div class="a " style="left:1639.50px;top:1851.31px;width:645.90px;height:22.63px;background:#f3f3f3;border:1px solid rgba(46,164,79,.15);"></div>
<div class="a " style="left:1639.50px;top:1851.31px;width:645.90px;height:22.63px;background:#2ea44f;"></div>
<div class="a " style="left:1069.00px;top:1909.00px;width:1220.00px;height:1.00px;background:#cfcfcf;"></div>
<span class="t l " style="left:1072.40px;top:1884.36px;font-size:20.2px;transform:scaleX(0.93);color:#222;">Digital Coupons</span>
<span class="t c " style="left:1493.20px;top:1884.36px;font-size:20.2px;transform:translateX(-50%) scaleX(0.93);color:#222;">62%</span>
<div class="a " style="left:1639.50px;top:1882.74px;width:645.90px;height:22.63px;background:#f3f3f3;border:1px solid rgba(245,213,94,.22);"></div>
<div class="a " style="left:1639.50px;top:1882.74px;width:400.46px;height:22.63px;background:#f5d55e;"></div>
<div class="a " style="left:1069.00px;top:1941.00px;width:1220.00px;height:1.00px;background:#cfcfcf;"></div>
<span class="t l " style="left:1072.40px;top:1915.79px;font-size:20.2px;transform:scaleX(0.93);color:#222;">Voice Shopping</span>
<span class="t c " style="left:1493.20px;top:1915.79px;font-size:20.2px;transform:translateX(-50%) scaleX(0.93);color:#222;">0%</span>
<div class="a " style="left:1639.50px;top:1914.17px;width:645.90px;height:22.63px;background:#f3f3f3;border:1px solid rgba(237,88,60,.22);"></div>
<div class="a " style="left:1069.00px;top:1972.00px;width:1220.00px;height:1.00px;background:#cfcfcf;"></div>
<span class="t l " style="left:1072.40px;top:1947.22px;font-size:20.2px;transform:scaleX(0.93);color:#222;">Product Sampling</span>
<span class="t c " style="left:1493.20px;top:1947.22px;font-size:20.2px;transform:translateX(-50%) scaleX(0.93);color:#222;">50%</span>
<div class="a " style="left:1639.50px;top:1945.60px;width:645.90px;height:22.63px;background:#f3f3f3;border:1px solid rgba(245,213,94,.22);"></div>
<div class="a " style="left:1639.50px;top:1945.60px;width:322.95px;height:22.63px;background:#f5d55e;"></div>
<div class="a " style="left:1069.00px;top:2003.00px;width:1220.00px;height:1.00px;background:#cfcfcf;"></div>
<div class="a " style="left:1069.00px;top:2035.00px;width:1220.00px;height:1.00px;background:#cfcfcf;"></div>
<div class="a " style="left:1069.00px;top:2066.00px;width:1220.00px;height:1.00px;background:#cfcfcf;"></div>
<div class="a " style="left:1069.00px;top:2098.00px;width:1220.00px;height:1.00px;background:#cfcfcf;"></div>
<div class="a " style="left:1069.00px;top:2129.00px;width:1220.00px;height:1.00px;background:#cfcfcf;"></div>
<div class="a " style="left:1069.00px;top:2161.00px;width:1220.00px;height:1.00px;background:#cfcfcf;"></div>
<svg class="a" style="left:0;top:0" width="2700" height="2160" viewBox="0 0 2700 2160">
<rect x="466.8" y="1009.90" width="1794.9" height="1.2" fill="#e3e3e3"/>
<rect x="466.8" y="957.50" width="1794.9" height="1.2" fill="#e3e3e3"/>
<rect x="466.8" y="905.10" width="1794.9" height="1.2" fill="#e3e3e3"/>
<rect x="466.8" y="852.70" width="1794.9" height="1.2" fill="#e3e3e3"/>
<rect x="466.8" y="800.30" width="1794.9" height="1.2" fill="#e3e3e3"/>
<rect x="495.30" y="853.30" width="52.6" height="209.60" fill="#2ea44f"/>
<text transform="translate(529.10,1077) scale(1.333,1) rotate(-45)" text-anchor="end" font-size="12" fill="#444">Create a Mobile App</text>
<rect x="575.60" y="1010.50" width="52.6" height="52.40" fill="#2ea44f"/>
<rect x="575.60" y="800.90" width="52.6" height="209.60" fill="#ea4335" rx="1.5"/>
<rect x="575.60" y="803.90" width="52.6" height="206.60" fill="#ea4335"/>
<text transform="translate(609.40,1077) scale(1.333,1) rotate(-45)" text-anchor="end" font-size="12" fill="#444">New Product Line</text>
<rect x="655.90" y="1010.50" width="52.6" height="52.40" fill="#2ea44f"/>
<rect x="655.90" y="853.30" width="52.6" height="157.20" fill="#ea4335" rx="1.5"/>
<rect x="655.90" y="856.30" width="52.6" height="154.20" fill="#ea4335"/>
<text transform="translate(689.70,1077) scale(1.333,1) rotate(-45)" text-anchor="end" font-size="12" fill="#444">Employee Training...</text>
<rect x="736.20" y="1010.50" width="52.6" height="52.40" fill="#2ea44f"/>
<text transform="translate(770.00,1077) scale(1.333,1) rotate(-45)" text-anchor="end" font-size="12" fill="#444">Digital Marketing Co...</text>
<rect x="816.50" y="1010.50" width="52.6" height="52.40" fill="#2ea44f"/>
<rect x="816.50" y="905.70" width="52.6" height="104.80" fill="#ea4335" rx="1.5"/>
<rect x="816.50" y="908.70" width="52.6" height="101.80" fill="#ea4335"/>
<text transform="translate(850.30,1077) scale(1.333,1) rotate(-45)" text-anchor="end" font-size="12" fill="#444">Develop a Customer ...</text>
<rect x="896.80" y="958.10" width="52.6" height="104.80" fill="#2ea44f"/>
<rect x="896.80" y="800.90" width="52.6" height="157.20" fill="#ea4335" rx="1.5"/>
<rect x="896.80" y="803.90" width="52.6" height="154.20" fill="#ea4335"/>
<text transform="translate(930.60,1077) scale(1.333,1) rotate(-45)" text-anchor="end" font-size="12" fill="#444">Improve Product Pa...</text>
<rect x="977.10" y="1010.50" width="52.6" height="52.40" fill="#2ea44f"/>
<rect x="977.10" y="958.10" width="52.6" height="52.40" fill="#ea4335" rx="1.5"/>
<rect x="977.10" y="961.10" width="52.6" height="49.40" fill="#ea4335"/>
<text transform="translate(1010.90,1077) scale(1.333,1) rotate(-45)" text-anchor="end" font-size="12" fill="#444">Launch a Referral P ...</text>
<rect x="1057.40" y="905.70" width="52.6" height="157.20" fill="#2ea44f"/>
<text transform="translate(1091.20,1077) scale(1.333,1) rotate(-45)" text-anchor="end" font-size="12" fill="#444">Sponsor a Local Event</text>
<rect x="1137.70" y="1010.50" width="52.6" height="52.40" fill="#2ea44f"/>
<text transform="translate(1171.50,1077) scale(1.333,1) rotate(-45)" text-anchor="end" font-size="12" fill="#444">Sustainable Packaging</text>
<rect x="1218.00" y="1010.50" width="52.6" height="52.40" fill="#ea4335" rx="1.5"/>
<rect x="1218.00" y="1013.50" width="52.6" height="49.40" fill="#ea4335"/>
<text transform="translate(1251.80,1077) scale(1.333,1) rotate(-45)" text-anchor="end" font-size="12" fill="#444">Influencer Collabora...</text>
<rect x="1298.30" y="958.10" width="52.6" height="104.80" fill="#2ea44f"/>
<rect x="1298.30" y="853.30" width="52.6" height="104.80" fill="#ea4335" rx="1.5"/>
<rect x="1298.30" y="856.30" width="52.6" height="101.80" fill="#ea4335"/>
<text transform="translate(1332.10,1077) scale(1.333,1) rotate(-45)" text-anchor="end" font-size="12" fill="#444">Live Chat Support</text>
<rect x="1378.60" y="958.10" width="52.6" height="104.80" fill="#2ea44f"/>
<rect x="1378.60" y="905.70" width="52.6" height="52.40" fill="#ea4335" rx="1.5"/>
<rect x="1378.60" y="908.70" width="52.6" height="49.40" fill="#ea4335"/>
<text transform="translate(1412.40,1077) scale(1.333,1) rotate(-45)" text-anchor="end" font-size="12" fill="#444">Subscription Service</text>
<rect x="1458.90" y="958.10" width="52.6" height="104.80" fill="#2ea44f"/>
<rect x="1458.90" y="800.90" width="52.6" height="157.20" fill="#ea4335" rx="1.5"/>
<rect x="1458.90" y="803.90" width="52.6" height="154.20" fill="#ea4335"/>
<text transform="translate(1492.70,1077) scale(1.333,1) rotate(-45)" text-anchor="end" font-size="12" fill="#444">Email Newsletter</text>
<rect x="1539.20" y="905.70" width="52.6" height="157.20" fill="#ea4335" rx="1.5"/>
<rect x="1539.20" y="908.70" width="52.6" height="154.20" fill="#ea4335"/>
<text transform="translate(1573.00,1077) scale(1.333,1) rotate(-45)" text-anchor="end" font-size="12" fill="#444">SEO Optimization</text>
<rect x="1619.50" y="905.70" width="52.6" height="157.20" fill="#2ea44f"/>
<rect x="1619.50" y="800.90" width="52.6" height="104.80" fill="#ea4335" rx="1.5"/>
<rect x="1619.50" y="803.90" width="52.6" height="101.80" fill="#ea4335"/>
<text transform="translate(1653.30,1077) scale(1.333,1) rotate(-45)" text-anchor="end" font-size="12" fill="#444">Online Community</text>
<rect x="1699.80" y="1010.50" width="52.6" height="52.40" fill="#2ea44f"/>
<rect x="1699.80" y="958.10" width="52.6" height="52.40" fill="#ea4335" rx="1.5"/>
<rect x="1699.80" y="961.10" width="52.6" height="49.40" fill="#ea4335"/>
<text transform="translate(1733.60,1077) scale(1.333,1) rotate(-45)" text-anchor="end" font-size="12" fill="#444">Multilingual Support</text>
<rect x="1780.10" y="853.30" width="52.6" height="209.60" fill="#ea4335" rx="1.5"/>
<rect x="1780.10" y="856.30" width="52.6" height="206.60" fill="#ea4335"/>
<text transform="translate(1813.90,1077) scale(1.333,1) rotate(-45)" text-anchor="end" font-size="12" fill="#444">Free Samples</text>
<rect x="1860.40" y="958.10" width="52.6" height="104.80" fill="#ea4335" rx="1.5"/>
<rect x="1860.40" y="961.10" width="52.6" height="101.80" fill="#ea4335"/>
<text transform="translate(1894.20,1077) scale(1.333,1) rotate(-45)" text-anchor="end" font-size="12" fill="#444">Cross-Selling</text>
<rect x="1940.70" y="1010.50" width="52.6" height="52.40" fill="#2ea44f"/>
<rect x="1940.70" y="958.10" width="52.6" height="52.40" fill="#ea4335" rx="1.5"/>
<rect x="1940.70" y="961.10" width="52.6" height="49.40" fill="#ea4335"/>
<text transform="translate(1974.50,1077) scale(1.333,1) rotate(-45)" text-anchor="end" font-size="12" fill="#444">Branded Merchandise</text>
<rect x="2021.00" y="958.10" width="52.6" height="104.80" fill="#2ea44f"/>
<rect x="2021.00" y="800.90" width="52.6" height="157.20" fill="#ea4335" rx="1.5"/>
<rect x="2021.00" y="803.90" width="52.6" height="154.20" fill="#ea4335"/>
<text transform="translate(2054.80,1077) scale(1.333,1) rotate(-45)" text-anchor="end" font-size="12" fill="#444">Digital Coupons</text>
<rect x="2101.30" y="1010.50" width="52.6" height="52.40" fill="#ea4335" rx="1.5"/>
<rect x="2101.30" y="1013.50" width="52.6" height="49.40" fill="#ea4335"/>
<text transform="translate(2135.10,1077) scale(1.333,1) rotate(-45)" text-anchor="end" font-size="12" fill="#444">Voice Shopping</text>
<rect x="2181.60" y="958.10" width="52.6" height="104.80" fill="#2ea44f"/>
<rect x="2181.60" y="800.90" width="52.6" height="157.20" fill="#ea4335" rx="1.5"/>
<rect x="2181.60" y="803.90" width="52.6" height="154.20" fill="#ea4335"/>
<text transform="translate(2215.40,1077) scale(1.333,1) rotate(-45)" text-anchor="end" font-size="12" fill="#444">Product Sampling</text>
<rect x="466.8" y="1061.70" width="1794.9" height="2.4" fill="#8a8a8a"/>
<text transform="translate(454.3,1067.10) scale(1.333,1)" text-anchor="middle" font-size="12" fill="#444">0</text>
<text transform="translate(454.3,1014.70) scale(1.333,1)" text-anchor="middle" font-size="12" fill="#444">1</text>
<text transform="translate(454.3,962.30) scale(1.333,1)" text-anchor="middle" font-size="12" fill="#444">2</text>
<text transform="translate(454.3,909.90) scale(1.333,1)" text-anchor="middle" font-size="12" fill="#444">3</text>
<text transform="translate(454.3,857.50) scale(1.333,1)" text-anchor="middle" font-size="12" fill="#444">4</text>
<text transform="translate(454.3,805.10) scale(1.333,1)" text-anchor="middle" font-size="12" fill="#444">5</text>
<rect x="1231.3" y="1174.3" width="16.3" height="12.2" fill="#ea4335" rx="1"/>
<text transform="translate(1258.4,1184.6) scale(1.333,1)" font-size="12" fill="#444">Remaining</text>
<rect x="1356.8" y="1174.3" width="16.3" height="12.2" fill="#2ea44f" rx="1"/>
<text transform="translate(1384,1184.6) scale(1.333,1)" font-size="12" fill="#444">Completed</text>
<rect x="466.5" y="1581.60" width="543.9" height="1.6" fill="#d9d9d9"/>
<rect x="466.5" y="1485.40" width="543.9" height="1.6" fill="#d9d9d9"/>
<rect x="466.5" y="1389.20" width="543.9" height="1.6" fill="#d9d9d9"/>
<rect x="466.5" y="1293.00" width="543.9" height="1.6" fill="#d9d9d9"/>
<rect x="525.4" y="1322.66" width="49.60" height="355.94" fill="#f5d55e" rx="2"/>
<rect x="525.4" y="1326.66" width="49.60" height="351.94" fill="#f5d55e"/>
<rect x="577.7" y="1543.92" width="49.50" height="134.68" fill="#2ea44f" rx="2"/>
<rect x="577.7" y="1547.92" width="49.50" height="130.68" fill="#2ea44f"/>
<rect x="688.2" y="1438.10" width="49.60" height="240.50" fill="#f5d55e" rx="2"/>
<rect x="688.2" y="1442.10" width="49.60" height="236.50" fill="#f5d55e"/>
<rect x="740.9" y="1543.92" width="49.30" height="134.68" fill="#2ea44f" rx="2"/>
<rect x="740.9" y="1547.92" width="49.30" height="130.68" fill="#2ea44f"/>
<rect x="849.6" y="1601.64" width="49.60" height="76.96" fill="#f5d55e" rx="2"/>
<rect x="849.6" y="1605.64" width="49.60" height="72.96" fill="#f5d55e"/>
<rect x="902.3" y="1659.36" width="49.30" height="19.24" fill="#2ea44f" rx="2"/>
<rect x="902.3" y="1663.36" width="49.30" height="15.24" fill="#2ea44f"/>
<rect x="466.5" y="1677.40" width="543.9" height="2.4" fill="#666"/>
<text transform="translate(458.5,1684.90) scale(.855,1)" text-anchor="end" font-size="18.8" fill="#444">0</text>
<text transform="translate(458.5,1588.70) scale(.855,1)" text-anchor="end" font-size="18.8" fill="#444">10</text>
<text transform="translate(458.5,1492.50) scale(.855,1)" text-anchor="end" font-size="18.8" fill="#444">20</text>
<text transform="translate(458.5,1396.30) scale(.855,1)" text-anchor="end" font-size="18.8" fill="#444">30</text>
<text transform="translate(458.5,1300.10) scale(.855,1)" text-anchor="end" font-size="18.8" fill="#444">40</text>
<text transform="translate(576.2,1702.3) scale(.855,1)" text-anchor="middle" font-size="18.8" fill="#444">High</text>
<text transform="translate(738.2,1702.3) scale(.855,1)" text-anchor="middle" font-size="18.8" fill="#444">Med</text>
<text transform="translate(900.4,1702.3) scale(.855,1)" text-anchor="middle" font-size="18.8" fill="#444">Low</text>
<rect x="627" y="1723" width="16.2" height="17" fill="#f5d55e" rx="2"/>
<text transform="translate(654.3,1738.3) scale(.855,1)" font-size="18.8" fill="#444">Total</text>
<rect x="709" y="1723" width="16.4" height="17" fill="#2ea44f" rx="2"/>
<text transform="translate(736.8,1738.3) scale(.855,1)" font-size="18.8" fill="#444">Completed</text>
</svg>
</body></html>
